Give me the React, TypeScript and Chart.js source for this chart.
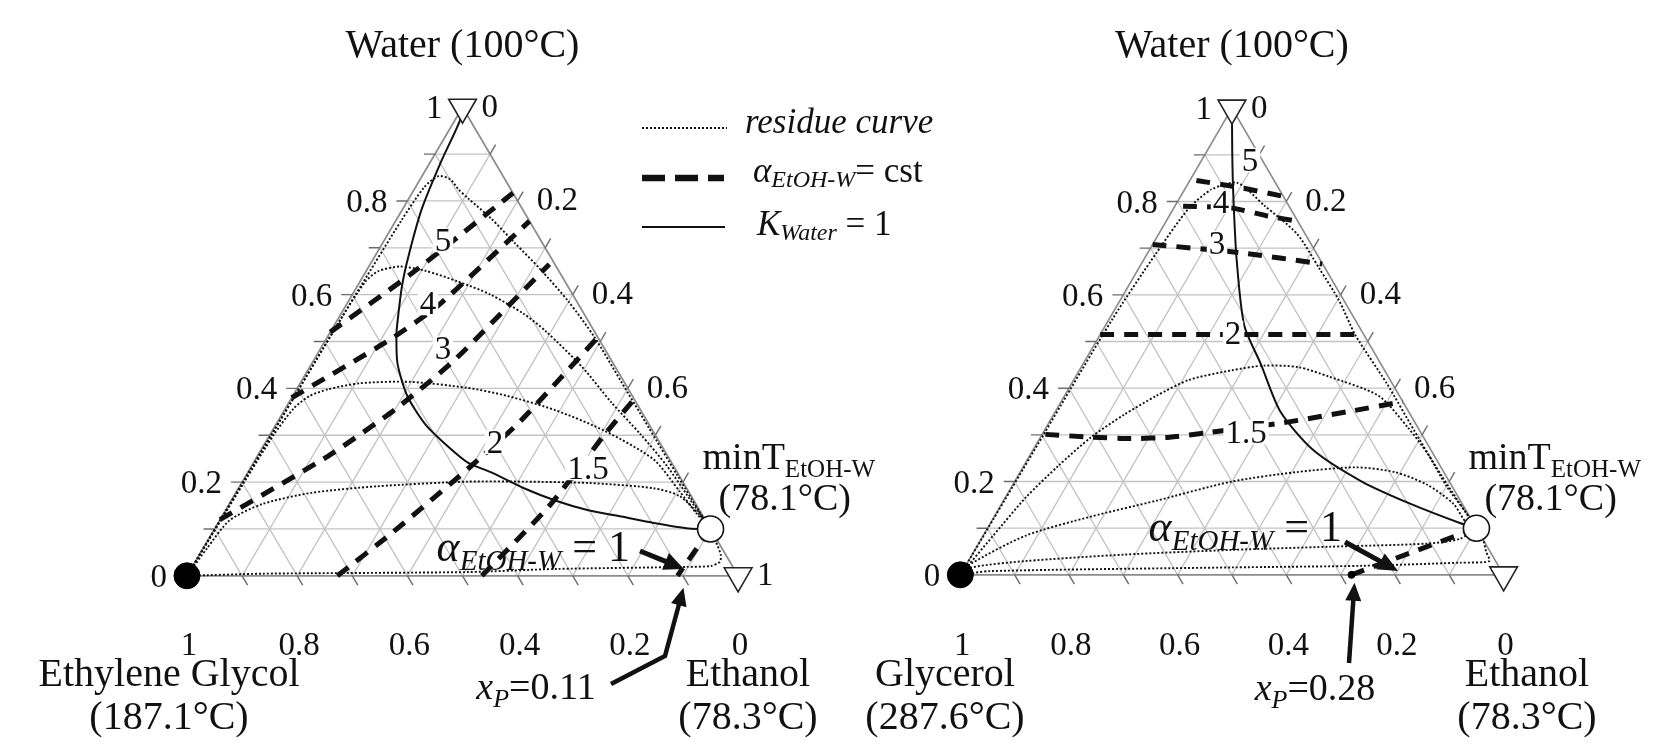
import React, { useEffect, useRef } from "react";
import { Chart, registerables } from "chart.js";

Chart.register(...registerables);

// Ternary points are [x_EtOH, x_Water]; the heavy entrainer fraction is 1 - both.
type TP = [number, number];

// ---------------- DATA ----------------
const gridSteps: number[] = [0.1, 0.2, 0.3, 0.4, 0.5, 0.6, 0.7, 0.8, 0.9];
const waterAxisLabels: number[] = [0, 0.2, 0.4, 0.6, 0.8, 1];
const entrainerAxisLabels: number[] = [1, 0.8, 0.6, 0.4, 0.2, 0];
const ethanolAxisLabelsLeft: number[] = [0, 0.2, 0.4, 0.6, 1];
const ethanolAxisLabelsRight: number[] = [0, 0.2, 0.4, 0.6];
const alphaValues: string[] = ["5", "4", "3", "2", "1.5"];
const azeotrope: TP = [0.9, 0.1];
const xPValues: number[] = [0.11, 0.28]; // entrainer fraction of the product point

// Left diagram: ethanol - water - ethylene glycol
const leftResidue1: TP[] = [[0, 0], [0.003, 0.3], [0.006, 0.6], [0.01, 0.76], [0.016, 0.83], [0.03, 0.853], [0.055, 0.846], [0.08, 0.825], [0.108, 0.805], [0.17, 0.763], [0.24, 0.71], [0.313, 0.655], [0.4, 0.585], [0.484, 0.51], [0.58, 0.415], [0.68, 0.316], [0.78, 0.217], [0.86, 0.138], [0.9, 0.1]];
const leftResidue2: TP[] = [[0, 0], [0.003, 0.3], [0.005, 0.55], [0.01, 0.628], [0.022, 0.65], [0.056, 0.66], [0.107, 0.651], [0.178, 0.628], [0.251, 0.6], [0.33, 0.56], [0.39, 0.522], [0.495, 0.445], [0.585, 0.37], [0.672, 0.302], [0.753, 0.235], [0.842, 0.153], [0.9, 0.1]];
const leftResidue3: TP[] = [[0, 0], [0.004, 0.2], [0.007, 0.3], [0.015, 0.357], [0.03, 0.383], [0.057, 0.398], [0.109, 0.411], [0.196, 0.414], [0.309, 0.401], [0.389, 0.384], [0.493, 0.353], [0.604, 0.309], [0.723, 0.248], [0.804, 0.18], [0.858, 0.133], [0.9, 0.1]];
const leftResidue4: TP[] = [[0, 0], [0.007, 0.058], [0.018, 0.118], [0.06, 0.153], [0.137, 0.177], [0.249, 0.191], [0.409, 0.201], [0.51, 0.201], [0.63, 0.198], [0.753, 0.187], [0.809, 0.17], [0.865, 0.13], [0.9, 0.1]];
const leftResidue5: TP[] = [[0, 0], [0.135, 0.0045], [0.506, 0.008], [0.662, 0.0146], [0.897, 0.019], [0.94, 0.021], [0.952, 0.03], [0.946, 0.045], [0.924, 0.072], [0.9, 0.1]];
const leftKWater: TP[] = [[0, 1], [0.0097, 0.9705], [0.019, 0.885], [0.0345, 0.7835], [0.059, 0.6886], [0.08, 0.621], [0.112, 0.5396], [0.125, 0.51], [0.156, 0.4522], [0.208, 0.3837], [0.2715, 0.3228], [0.3365, 0.2754], [0.389, 0.2415], [0.4406, 0.2211], [0.5168, 0.1874], [0.5895, 0.1602], [0.6583, 0.1398], [0.7249, 0.1264], [0.7908, 0.1128], [0.86, 0.101], [0.9, 0.1]];
const leftAlpha5: TP[] = [[0, 0.52], [0.085, 0.645], [0.183, 0.817]];
const leftAlpha4: TP[] = [[0, 0.38], [0.112, 0.499], [0.166, 0.574], [0.243, 0.757]];
const leftAlpha3: TP[] = [[0, 0.12], [0.128, 0.255], [0.2, 0.355], [0.255, 0.46], [0.325, 0.665]];
const leftAlpha2: TP[] = [[0.273, 0], [0.327, 0.093], [0.396, 0.229], [0.44, 0.33], [0.491, 0.509]];
const leftAlpha15: TP[] = [[0.535, 0], [0.583, 0.15], [0.607, 0.3], [0.623, 0.377]];
const leftAlpha1: TP[] = [[0.9, 0.1], [0.89, 0]];

// Right diagram: ethanol - water - glycerol
const rightResidue1: TP[] = [[0, 0], [0.003, 0.3], [0.006, 0.55], [0.016, 0.69], [0.028, 0.786], [0.05, 0.826], [0.09, 0.84], [0.163, 0.792], [0.254, 0.731], [0.333, 0.656], [0.403, 0.588], [0.471, 0.513], [0.58, 0.41], [0.68, 0.31], [0.78, 0.212], [0.86, 0.137], [0.9, 0.1]];
const rightResidue2: TP[] = [[0, 0], [0.0186, 0.0842], [0.0377, 0.1659], [0.0637, 0.2339], [0.0933, 0.2952], [0.1295, 0.3428], [0.1691, 0.3836], [0.2122, 0.4178], [0.28, 0.4382], [0.335, 0.4484], [0.4, 0.445], [0.467, 0.4245], [0.578, 0.3837], [0.666, 0.3156], [0.73, 0.26], [0.8, 0.19], [0.86, 0.137], [0.9, 0.1]];
const rightResidue3: TP[] = [[0, 0], [0.007, 0.023], [0.0786, 0.0842], [0.1784, 0.125], [0.2814, 0.1589], [0.3992, 0.1998], [0.5092, 0.2202], [0.6122, 0.2304], [0.6894, 0.2202], [0.763, 0.193], [0.8315, 0.1522], [0.8758, 0.1113], [0.9, 0.1]];
const rightResidue4: TP[] = [[0, 0], [0.013, 0.016], [0.1059, 0.0296], [0.2792, 0.0433], [0.4723, 0.0535], [0.6492, 0.0603], [0.826, 0.067], [0.881, 0.0772], [0.9, 0.1]];
const rightResidue5: TP[] = [[0, 0], [0.05, 0.008], [0.491, 0.0159], [0.7296, 0.0194], [0.9064, 0.0261], [0.9587, 0.0296], [0.9426, 0.05], [0.925, 0.075], [0.9, 0.1]];
const rightKWater: TP[] = [[0, 1], [0.048, 0.905], [0.096, 0.813], [0.17, 0.677], [0.255, 0.535], [0.327, 0.452], [0.414, 0.35], [0.515, 0.268], [0.639, 0.2], [0.753, 0.152], [0.864, 0.111], [0.9, 0.1]];
const rightAlpha5: TP[] = [[0.012, 0.845], [0.1, 0.83], [0.185, 0.812]];
const rightAlpha4: TP[] = [[0.015, 0.79], [0.106, 0.786], [0.181, 0.769], [0.241, 0.758]];
const rightAlpha3: TP[] = [[0, 0.708], [0.172, 0.69], [0.333, 0.666]];
const rightAlpha2: TP[] = [[0, 0.515], [0.485, 0.515]];
const rightAlpha15: TP[] = [[0.006, 0.301], [0.094, 0.295], [0.168, 0.292], [0.238, 0.295], [0.305, 0.305], [0.432, 0.326], [0.54, 0.35], [0.629, 0.371]];
const rightAlpha1: TP[] = [[0.9, 0.1], [0.72, 0]];

// ---------------- LAYOUT ----------------
const CW = 1671;
const CH = 755;
const SERIF = '"Liberation Serif", "Times New Roman", serif';
const INK = "#111111";
const GRID = "#c3c3c3";
const EDGE = "#8c8c8c";
const TICK = "#6c6c6c";
const TICK_LEN = 0.02;

type Panel = { bl: [number, number]; br: [number, number]; top: [number, number] };
const PANEL_L: Panel = { bl: [173, 585.5], br: [736, 585.5], top: [454.5, 94] };
const PANEL_R: Panel = { bl: [963, 584.5], br: [1518, 584.5], top: [1240.5, 95] };

function tern(p: Panel, e: number, w: number) {
  const g = 1 - e - w;
  return {
    x: g * p.bl[0] + e * p.br[0] + w * p.top[0],
    y: g * p.bl[1] + e * p.br[1] + w * p.top[1],
  };
}

function lineDs(pts: { x: number; y: number }[], color: string, width: number, dash: number[], order: number, tension = 0) {
  return {
    data: pts,
    showLine: true,
    borderColor: color,
    borderWidth: width,
    borderDash: dash,
    borderCapStyle: "butt",
    borderJoinStyle: "round",
    pointRadius: 0,
    pointHoverRadius: 0,
    fill: false,
    tension,
    order,
  };
}

function panelDatasets(p: Panel, residue: TP[][], alphas: TP[][], alphaOne: TP[], kw: TP[]) {
  const ds: any[] = [];
  const t = (e: number, w: number) => tern(p, e, w);
  for (const s of gridSteps) {
    ds.push(lineDs([t(0, s), t(1 - s, s)], GRID, 1.3, [], 9));
    ds.push(lineDs([t(s, 0), t(s, 1 - s)], GRID, 1.3, [], 9));
    ds.push(lineDs([t(1 - s, 0), t(0, 1 - s)], GRID, 1.3, [], 9));
    ds.push(lineDs([t(-TICK_LEN, s), t(0, s)], TICK, 1.4, [], 7));
    ds.push(lineDs([t(s, 1 - s), t(s, 1 - s + TICK_LEN)], TICK, 1.4, [], 7));
    ds.push(lineDs([t(1 - s, 0), t(1 - s + TICK_LEN, -TICK_LEN)], TICK, 1.4, [], 7));
  }
  ds.push(lineDs([t(0, 0), t(1, 0), t(0, 1), t(0, 0)], EDGE, 1.7, [], 8));
  for (const c of residue) ds.push(lineDs(c.map((q) => t(q[0], q[1])), INK, 1.9, [2, 2], 4, 0.25));
  for (const c of alphas) ds.push(lineDs(c.map((q) => t(q[0], q[1])), INK, 5, [14, 10], 3, 0.2));
  ds.push(lineDs(alphaOne.map((q) => t(q[0], q[1])), INK, 5, [14, 10], 3));
  ds.push(lineDs(kw.map((q) => t(q[0], q[1])), INK, 2, [], 2, 0.25));
  // markers
  ds.push({ data: [t(0, 0)], showLine: false, pointRadius: 13, pointStyle: "circle", backgroundColor: "#000", borderColor: "#000", borderWidth: 1, order: 0 });
  ds.push({ data: [t(azeotrope[0], azeotrope[1])], showLine: false, pointRadius: 13, pointStyle: "circle", backgroundColor: "#fff", borderColor: INK, borderWidth: 1.6, order: 0 });
  ds.push({ data: [t(0, 1), t(1, 0)], showLine: false, pointRadius: 16, pointStyle: "triangle", pointRotation: 180, backgroundColor: "#fff", borderColor: "#222", borderWidth: 1.6, order: 0 });
  return ds;
}

function buildDatasets() {
  const left = panelDatasets(
    PANEL_L,
    [leftResidue1, leftResidue2, leftResidue3, leftResidue4, leftResidue5],
    [leftAlpha5, leftAlpha4, leftAlpha3, leftAlpha2, leftAlpha15],
    leftAlpha1,
    leftKWater
  );
  const right = panelDatasets(
    PANEL_R,
    [rightResidue1, rightResidue2, rightResidue3, rightResidue4, rightResidue5],
    [rightAlpha5, rightAlpha4, rightAlpha3, rightAlpha2, rightAlpha15],
    rightAlpha1,
    rightKWater
  );
  const dot = { data: [tern(PANEL_R, 1 - xPValues[1], 0)], showLine: false, pointRadius: 3.5, pointStyle: "circle", backgroundColor: "#000", borderColor: "#000", order: 0 };
  return [...left, ...right, dot];
}

// label layout (pixel centres)
const alphaLabelPosL = [[443, 240], [428, 303], [443, 348], [495, 442], [588, 468]];
const alphaLabelPosR = [[1250, 160], [1221, 202], [1217, 243], [1233, 333], [1246, 432]];

type Part = { t: string; size: number; italic?: boolean; dy?: number };
function fontOf(p: Part) {
  return `${p.italic ? "italic " : ""}${p.size}px ${SERIF}`;
}
function rich(ctx: CanvasRenderingContext2D, parts: Part[], x: number, y: number, align: "left" | "center" | "right") {
  let total = 0;
  const ws = parts.map((p) => {
    ctx.font = fontOf(p);
    const w = ctx.measureText(p.t).width;
    total += w;
    return w;
  });
  let cx = align === "left" ? x : align === "center" ? x - total / 2 : x - total;
  ctx.textAlign = "left";
  ctx.textBaseline = "alphabetic";
  ctx.fillStyle = INK;
  parts.forEach((p, i) => {
    ctx.font = fontOf(p);
    ctx.fillText(p.t, cx, y + (p.dy || 0));
    cx += ws[i];
  });
}
function plain(ctx: CanvasRenderingContext2D, text: string, x: number, y: number, size: number, align: CanvasTextAlign) {
  ctx.font = `${size}px ${SERIF}`;
  ctx.textAlign = align;
  ctx.textBaseline = "alphabetic";
  ctx.fillStyle = INK;
  ctx.fillText(text, x, y);
}
function boxed(ctx: CanvasRenderingContext2D, text: string, x: number, y: number, size: number) {
  ctx.font = `${size}px ${SERIF}`;
  const w = ctx.measureText(text).width;
  ctx.fillStyle = "#fff";
  ctx.fillRect(x - w / 2 - 2, y - size * 0.37, w + 4, size * 0.74);
  plain(ctx, text, x, y + size * 0.34, size, "center");
}
function arrow(ctx: CanvasRenderingContext2D, pts: { x: number; y: number }[], lw: number, headLen: number, headHalf: number) {
  const n = pts.length;
  const a = pts[n - 2];
  const b = pts[n - 1];
  const ang = Math.atan2(b.y - a.y, b.x - a.x);
  const base = { x: b.x - headLen * Math.cos(ang), y: b.y - headLen * Math.sin(ang) };
  ctx.strokeStyle = INK;
  ctx.fillStyle = INK;
  ctx.setLineDash([]);
  ctx.lineWidth = lw;
  ctx.lineCap = "butt";
  ctx.lineJoin = "miter";
  ctx.beginPath();
  ctx.moveTo(pts[0].x, pts[0].y);
  for (let i = 1; i < n - 1; i++) ctx.lineTo(pts[i].x, pts[i].y);
  ctx.lineTo(base.x + 2 * Math.cos(ang), base.y + 2 * Math.sin(ang));
  ctx.stroke();
  ctx.beginPath();
  ctx.moveTo(b.x, b.y);
  ctx.lineTo(base.x + headHalf * Math.sin(ang), base.y - headHalf * Math.cos(ang));
  ctx.lineTo(base.x - headHalf * Math.sin(ang), base.y + headHalf * Math.cos(ang));
  ctx.closePath();
  ctx.fill();
}
const fmt = (v: number) => (v === 0 ? "0" : v === 1 ? "1" : v.toFixed(1));

const textPlugin = {
  id: "ternaryText",
  afterDatasetsDraw(chart: any) {
    const ctx: CanvasRenderingContext2D = chart.ctx;
    const sx = chart.scales.x;
    const sy = chart.scales.y;
    const P = (q: { x: number; y: number }) => ({ x: sx.getPixelForValue(q.x), y: sy.getPixelForValue(q.y) });
    const TP_ = (p: Panel, e: number, w: number) => P(tern(p, e, w));
    ctx.save();

    const panels: [Panel, number[], string, string, string, string, number[][], number, number][] = [
      [PANEL_L, ethanolAxisLabelsLeft, "Ethylene Glycol", "(187.1°C)", "Ethanol", "(78.3°C)", alphaLabelPosL, 169, 748],
      [PANEL_R, ethanolAxisLabelsRight, "Glycerol", "(287.6°C)", "Ethanol", "(78.3°C)", alphaLabelPosR, 945, 1527],
    ];
    panels.forEach(([p, ethLabels, heavy, heavyT, light, lightT, alphaPos, hx, lx]) => {
      // title
      const top = TP_(p, 0, 1);
      plain(ctx, "Water (100°C)", top.x, 57, 40, "center");
      // water axis (left edge)
      for (const v of waterAxisLabels) {
        const q = TP_(p, 0, v);
        plain(ctx, fmt(v), q.x - 20, q.y + 11, 33, "right");
      }
      // ethanol axis (right edge)
      for (const v of ethLabels) {
        const q = TP_(p, v, 1 - v);
        plain(ctx, fmt(v), q.x + 19, q.y + 9.5, 33, "left");
      }
      // entrainer axis (bottom)
      for (const v of entrainerAxisLabels) {
        const q = TP_(p, 1 - v, 0);
        plain(ctx, fmt(v), q.x + 2, 655, 33, "center");
      }
      // component names
      plain(ctx, heavy, hx, 686, 40, "center");
      plain(ctx, heavyT, hx, 729, 40, "center");
      plain(ctx, light, lx, 686, 40, "center");
      plain(ctx, lightT, lx, 729, 40, "center");
      // alpha labels
      alphaValues.forEach((a, i) => boxed(ctx, a, alphaPos[i][0], alphaPos[i][1], 33));
      // azeotrope label
      const az = TP_(p, azeotrope[0], azeotrope[1]);
      rich(ctx, [{ t: "minT", size: 38 }, { t: "EtOH-W", size: 25, dy: 8 }], az.x - 8, 469, "left");
      plain(ctx, "(78.1°C)", az.x + 8, 510, 38, "left");
    });

    // alpha = 1 labels and arrows
    const alphaOneParts = (): Part[] => [
      { t: "α", size: 44, italic: true },
      { t: "EtOH-W", size: 29, italic: true, dy: 9 },
      { t: " = 1", size: 44 },
    ];
    rich(ctx, alphaOneParts(), 630, 561, "right");
    rich(ctx, alphaOneParts(), 1342, 541, "right");
    arrow(ctx, [{ x: 640, y: 551 }, { x: 684, y: 569 }], 5, 20, 9);
    arrow(ctx, [{ x: 1345, y: 542 }, { x: 1398, y: 571 }], 5, 20, 9);

    // x_P labels and arrows
    const xpParts = (v: number): Part[] => [
      { t: "x", size: 38, italic: true },
      { t: "P", size: 26, italic: true, dy: 8 },
      { t: "=" + v.toFixed(2), size: 38 },
    ];
    rich(ctx, xpParts(xPValues[0]), 536, 699, "center");
    rich(ctx, xpParts(xPValues[1]), 1315, 700, "center");
    const tipL = TP_(PANEL_L, 1 - xPValues[0], 0);
    arrow(ctx, [{ x: 611, y: 684 }, { x: 665, y: 656 }, { x: tipL.x + 6, y: tipL.y + 12 }], 4.5, 18, 8);
    const tipR = TP_(PANEL_R, 1 - xPValues[1], 0);
    arrow(ctx, [{ x: 1349, y: 663 }, { x: tipR.x + 3, y: tipR.y + 8 }], 4.5, 18, 8);

    // legend
    ctx.strokeStyle = INK;
    ctx.lineCap = "butt";
    ctx.setLineDash([2, 2]);
    ctx.lineWidth = 1.8;
    ctx.beginPath();
    ctx.moveTo(642, 128);
    ctx.lineTo(727, 128);
    ctx.stroke();
    ctx.setLineDash([23, 10]);
    ctx.lineWidth = 6.5;
    ctx.beginPath();
    ctx.moveTo(642, 178);
    ctx.lineTo(724, 178);
    ctx.stroke();
    ctx.setLineDash([]);
    ctx.lineWidth = 2;
    ctx.beginPath();
    ctx.moveTo(642, 227);
    ctx.lineTo(725, 227);
    ctx.stroke();
    rich(ctx, [{ t: "residue curve", size: 35, italic: true }], 745, 133, "left");
    rich(ctx, [{ t: "α", size: 35, italic: true }, { t: "EtOH-W", size: 24, italic: true, dy: 5 }, { t: "= cst", size: 35 }], 753, 182, "left");
    rich(ctx, [{ t: "K", size: 35, italic: true }, { t: "Water", size: 24, italic: true, dy: 5 }, { t: " = 1", size: 35 }], 757, 235, "left");

    ctx.restore();
  },
};

export default function App() {
  const ref = useRef<HTMLCanvasElement>(null);
  useEffect(() => {
    document.body.style.margin = "0";
    document.body.style.overflow = "hidden";
    const chart = new Chart(ref.current as HTMLCanvasElement, {
      type: "scatter",
      data: { datasets: buildDatasets() as any },
      options: {
        animation: false,
        responsive: false,
        maintainAspectRatio: false,
        events: [],
        layout: { padding: 0 },
        plugins: { legend: { display: false }, tooltip: { enabled: false }, title: { display: false } },
        scales: {
          x: { type: "linear", min: 0, max: CW, display: false },
          y: { type: "linear", min: 0, max: CH, reverse: true, display: false },
        },
      } as any,
      plugins: [textPlugin as any],
    });
    return () => chart.destroy();
  }, []);
  return (
    <div style={{ width: CW, height: CH, background: "#fff" }}>
      <canvas ref={ref} width={CW} height={CH} style={{ display: "block", width: CW, height: CH }} />
    </div>
  );
}
